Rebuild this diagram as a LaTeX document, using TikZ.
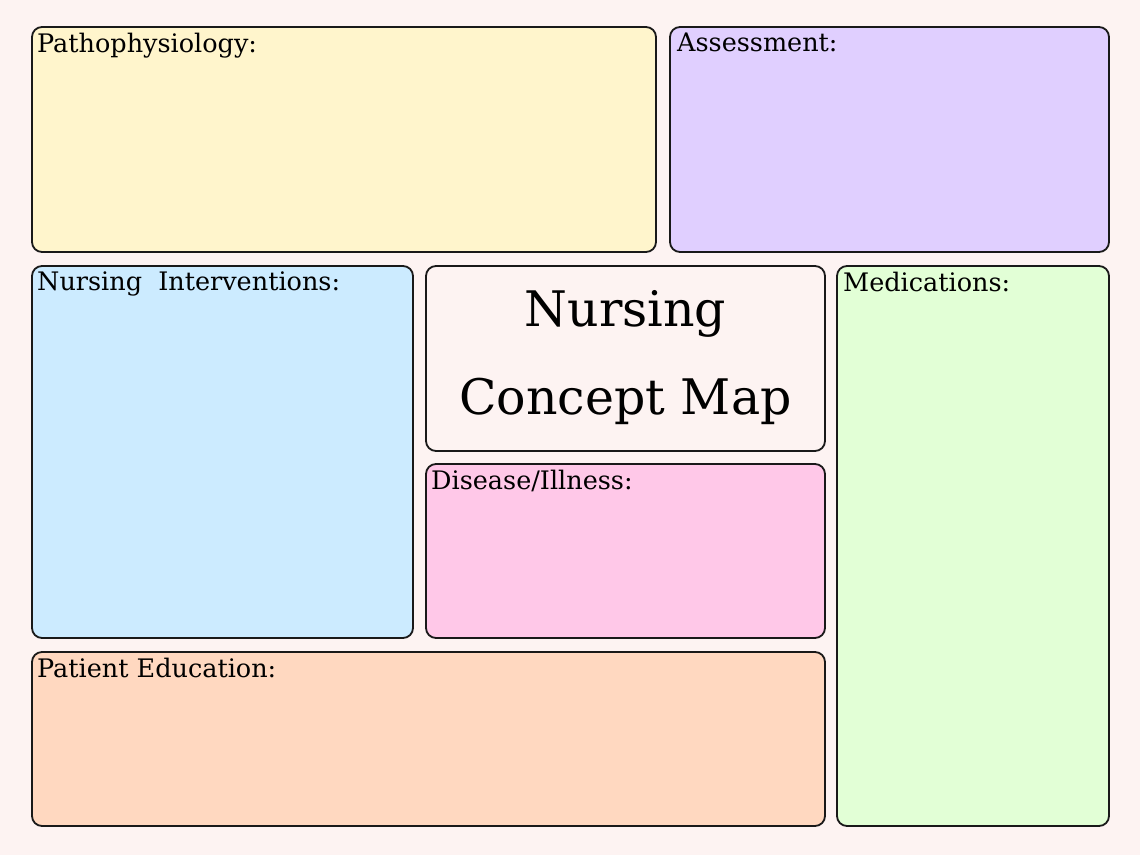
\documentclass[tikz,border=0pt]{standalone}
\usepackage{fontspec}
\setmainfont{DejaVu Serif}
\begin{document}
\begin{tikzpicture}[x=1pt,y=-1pt,
  box/.style={draw=black!90,line width=1.8pt,rounded corners=10pt},
  lbl/.style={anchor=north west,inner sep=0pt,font=\fontsize{25.5}{30}\selectfont}]
\fill[fill={rgb,255:red,253;green,243;blue,242}] (0,0) rectangle (1140,855);
\useasboundingbox (0,0) rectangle (1140,855);
\definecolor{cpatho}{RGB}{255,245,204}
\definecolor{cassess}{RGB}{224,207,255}
\definecolor{cinterv}{RGB}{204,235,255}
\definecolor{ccenter}{RGB}{253,243,242}
\definecolor{cdis}{RGB}{255,200,232}
\definecolor{cmed}{RGB}{226,255,214}
\definecolor{cedu}{RGB}{255,216,192}
\draw[box,fill=cpatho] (32,27) rectangle (656,252);
\node[lbl] (patho) at (37,33) {Pathophysiology:};
\draw[box,fill=cassess] (670,27) rectangle (1109,252);
\node[lbl] (assess) at (677,33) {Assessment:};
\draw[box,fill=cinterv] (32,266) rectangle (413,638);
\node[lbl] (interv) at (37,272) {Nursing\ \ Interventions:};
\draw[box,fill=ccenter] (426,266) rectangle (825,451);
\node[font=\fontsize{49}{88}\selectfont,align=center] (title) at (625.5,358) {Nursing\\Concept Map};
\draw[box,fill=cdis] (426,464) rectangle (825,638);
\node[lbl] (dis) at (431,470) {Disease/Illness:};
\draw[box,fill=cmed] (837,266) rectangle (1109,826);
\node[lbl] (med) at (843,272) {Medications:};
\draw[box,fill=cedu] (32,652) rectangle (825,826);
\node[lbl] (edu) at (37,658) {Patient Education:};
\end{tikzpicture}
\end{document}
